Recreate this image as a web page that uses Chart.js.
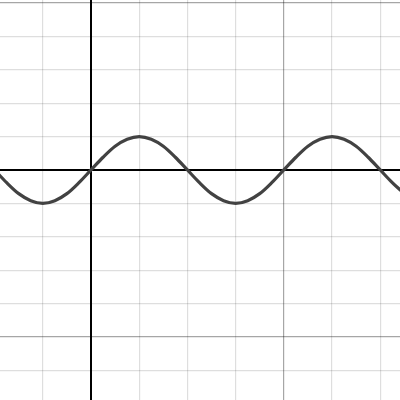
<!DOCTYPE html>
<html><head>
<meta charset="UTF-8">
<script src="https://cdn.jsdelivr.net/npm/chart.js"></script>
<style>html,body{margin:0;padding:0;background:#fff}#c{width:400px;height:400px}</style>
</head><body>
<div id="c"><canvas id="chart" width="400" height="400"></canvas></div>
<script>
  // x is in grid cells (one cell = pi/2), y in units
  var xs = [-2,-1.75,-1.5,-1.25,-1,-0.75,-0.5,-0.25,0,0.25,0.5,0.75,1,1.25,1.5,1.75,
            2,2.25,2.5,2.75,3,3.25,3.5,3.75,4,4.25,4.5,4.75,5,5.25,5.5,5.75,6,6.25,6.5];
  var ys = [0,-0.38,-0.71,-0.92,-1,-0.92,-0.71,-0.38,0,0.38,0.71,0.92,1,0.92,0.71,0.38,
            0,-0.38,-0.71,-0.92,-1,-0.92,-0.71,-0.38,0,0.38,0.71,0.92,1,0.92,0.71,0.38,0,-0.38,-0.71];
  var xRange = [-1.888, 6.41];
  var yRange = [-6.89, 5.09];

  var pts = xs.map(function(x, i) { return {x: x, y: ys[i]}; });

  function intTicks(scale) {
    var t = [];
    for (var v = Math.ceil(scale.min); v <= Math.floor(scale.max); v++) t.push({value: v});
    scale.ticks = t;
  }
  function gridColor(major) {
    return function(ctx) {
      var v = ctx.tick.value;
      if (v === 0) return '#000';
      if (v % major === 0) return 'rgba(0,0,0,0.35)';
      return 'rgba(0,0,0,0.13)';
    };
  }
  function gridWidth(ctx) {
    return ctx.tick.value === 0 ? 2 : 1.2;
  }

  new Chart(document.getElementById('chart').getContext('2d'), {
    type: 'scatter',
    data: { datasets: [{
      data: pts, showLine: true, borderColor: '#424242', borderWidth: 3.2,
      pointRadius: 0, cubicInterpolationMode: 'monotone', fill: false
    }]},
    options: {
      responsive: false, animation: false,
      layout: { padding: 0 },
      plugins: { legend: { display: false }, tooltip: { enabled: false } },
      scales: {
        x: { type: 'linear', min: xRange[0], max: xRange[1], afterBuildTicks: intTicks,
             ticks: { display: false },
             grid: { color: gridColor(4), lineWidth: gridWidth, drawTicks: false },
             border: { display: false } },
        y: { type: 'linear', min: yRange[0], max: yRange[1], afterBuildTicks: intTicks,
             ticks: { display: false },
             grid: { color: gridColor(5), lineWidth: gridWidth, drawTicks: false },
             border: { display: false } }
      }
    }
  });
</script>
</body></html>
